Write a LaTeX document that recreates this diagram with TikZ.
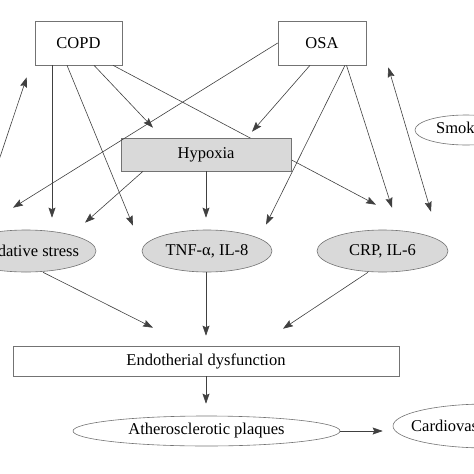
\documentclass[tikz,border=0pt]{standalone}
\usepackage{fontspec}
\setmainfont{Liberation Serif}
\usepackage{tikz}
\usetikzlibrary{shapes.geometric}
\usetikzlibrary{arrows.meta}

\begin{document}
\begin{tikzpicture}[
        x=1pt, y=-1pt,
        >={Stealth[length=10pt, width=7pt, inset=1.5pt]},
        font=\fontsize{16.5}{19}\selectfont,
        link/.style={draw=black!75, line width=0.6pt, ->},
        box/.style={draw=black!55, line width=0.6pt, rectangle, inner sep=0pt},
        oval/.style={draw=black!55, line width=0.6pt, ellipse, inner sep=0pt},
        grey/.style={fill=black!15},
    ]

    \useasboundingbox (0, 0) rectangle (474, 474);
    \clip (0, 0) rectangle (474, 474);

    \node[box, minimum width=87pt, minimum height=44pt] (copd) at (78.5, 43) {COPD};
    \node[box, minimum width=88pt, minimum height=44pt] (osa) at (322, 43) {OSA};

    \node[oval, grey, inner xsep=-16pt, minimum width=140pt, minimum height=42pt] (ox) at (26, 251) {Oxidative stress};
    \node[oval, grey, minimum width=130pt, minimum height=42pt] (tnf) at (207, 251) {TNF-α, IL-8};
    \node[oval, grey, minimum width=131pt, minimum height=42pt] (crp) at (382.5, 251) {CRP, IL-6};
    \node[oval, minimum width=102pt, minimum height=30pt] (smk) at (466, 130) {Smoking};

    \node[box, minimum width=386pt, minimum height=30pt] (endo) at (206, 361) {Endotherial dysfunction};
    \node[oval, minimum width=267pt, minimum height=30pt] (ath) at (206.5, 431) {Atherosclerotic plaques};
    \node[oval, inner xsep=-30pt, minimum width=188pt, minimum height=44pt] (cvd) at (487, 426) {Cardiovascular disease};

    \draw[link] ([xshift=34.5pt]copd.south) -- ([xshift=-6.5pt, yshift=25pt]crp.north);

    \node[box, grey, minimum width=170pt, minimum height=33pt] (hyp) at (206, 154.5) {Hypoxia};

    \draw[link] ([xshift=-26.5pt]copd.south) -- ([xshift=26pt, yshift=12pt]ox.north);
    \draw[link] ([xshift=-11.5pt]copd.south) -- ([xshift=-74pt, yshift=4pt]tnf.north);
    \draw[link] ([xshift=15.5pt]copd.south) -- ([xshift=-53pt, yshift=10pt]hyp.north);

    \draw[link] (osa.west) -- ([xshift=-13pt, yshift=22pt]ox.north);
    \draw[link] ([xshift=-12pt]osa.south) -- ([xshift=46pt, yshift=6pt]hyp.north);
    \draw[link] ([xshift=23pt]osa.south) -- ([xshift=59pt, yshift=5pt]tnf.north);
    \draw[link] ([xshift=24.5pt]osa.south) -- ([xshift=9.5pt, yshift=22pt]crp.north);

    \draw[link] ([xshift=-63pt]hyp.south) -- ([xshift=59pt, yshift=7pt]ox.north);
    \draw[link] (hyp.south) -- ([xshift=-1pt, yshift=12pt]tnf.north);

    \draw[link, <->] ([xshift=22pt, yshift=-2pt]osa.south east) -- ([xshift=48.5pt, yshift=18pt]crp.north);

    \coordinate (lft) at (-3, 166);
    \draw[link] (lft) -- ([xshift=-8pt, yshift=-12pt]copd.south west);

    \draw[link] ([xshift=17pt]ox.south) -- ([xshift=-53pt, yshift=18pt]endo.north);
    \draw[link] ([xshift=-1pt]tnf.south) -- ([yshift=10pt]endo.north);
    \draw[link] ([xshift=-14.5pt]crp.south) -- ([xshift=77pt, yshift=17pt]endo.north);

    \draw[link] (endo.south) -- ([xshift=-0.5pt, yshift=12pt]ath.north);
    \draw[link] (ath.east) -- ([xshift=-10pt, yshift=-5pt]cvd.west);

\end{tikzpicture}
\end{document}
